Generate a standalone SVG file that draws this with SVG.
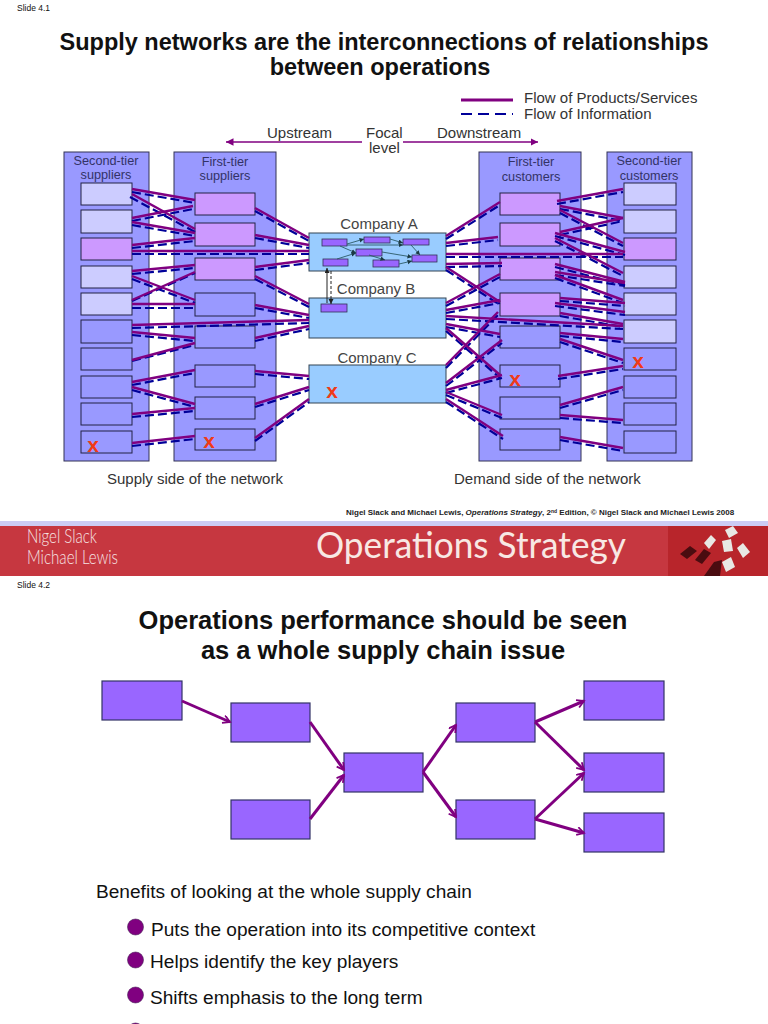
<svg xmlns="http://www.w3.org/2000/svg" width="768" height="1024" viewBox="0 0 768 1024">
<style>
text{font-family:"Liberation Sans",Arial,sans-serif;fill:#222}
.t{font-size:23.500px;font-weight:bold;text-anchor:middle;fill:#111}
.t2{font-size:25.500px;font-weight:bold;text-anchor:middle;fill:#111}
.l{font-size:15px;fill:#333}
.h{font-size:12.700px;text-anchor:middle;fill:#333366}
.m{font-size:15px;text-anchor:middle;fill:#444}
.s{font-size:8.500px;fill:#111}
.c{font-size:8px;font-weight:bold;fill:#222}
.b{font-size:19.100px;fill:#111}
.x{font-size:21px;font-weight:bold;text-anchor:middle;fill:#f03a17}
.col{fill:#9999ff;stroke:#333355;stroke-width:1}
.p0{fill:#9999ff;stroke:#222244;stroke-width:1}
.p1{fill:#cc99ff;stroke:#222244;stroke-width:1}
.p2{fill:#ccccff;stroke:#222244;stroke-width:1}
.co{fill:#99ccff;stroke:#334455;stroke-width:1}
.in{fill:#9966ff;stroke:#333355;stroke-width:.8}
.st{fill:#9966ff;stroke:#333366;stroke-width:1.2}
.f{stroke:#800080;stroke-width:2.400;fill:none}
.i{stroke:#000099;stroke-width:2.200;stroke-dasharray:9 4;fill:none}
.g{stroke:#2c5a66;stroke-width:.9;fill:none;marker-end:url(#sm)}
.a{stroke:#800080;stroke-width:3;fill:none;marker-end:url(#ah)}
.d{fill:#e8e8e4}
.k{fill:#4a0c10}
</style>
<defs>
<marker id="ah" markerWidth="10" markerHeight="10" refX="8" refY="4.500" orient="auto" markerUnits="userSpaceOnUse"><path d="M1 .5L8 4.500L1 8.500" fill="none" stroke="#800080" stroke-width="1.800"/></marker>
<marker id="sm" markerWidth="6" markerHeight="6" refX="5" refY="2.500" orient="auto"><path d="M0 0L5 2.500L0 5z" fill="#1c3a44"/></marker>
<marker id="smr" markerWidth="6" markerHeight="6" refX="5" refY="2.500" orient="auto-start-reverse"><path d="M0 0L5 2.500L0 5z" fill="#222"/></marker>
<marker id="tp" markerWidth="6" markerHeight="6" refX="5" refY="2.500" orient="auto-start-reverse"><path d="M0 0L5 2.500L0 5z" fill="#800080"/></marker>
</defs>
<rect width="768" height="1024" fill="#fff"/>

<text class="s" x="17" y="11">Slide 4.1</text>
<text class="t" x="384" y="50">Supply networks are the interconnections of relationships</text>
<text class="t" x="380" y="75">between operations</text>

<g id="legend">
<line x1="461" y1="100" x2="513" y2="100" stroke="#800080" stroke-width="3"/>
<line x1="461" y1="114" x2="513" y2="114" stroke="#000099" stroke-width="2" stroke-dasharray="11 6"/>
<text class="l" x="524" y="103">Flow of Products/Services</text>
<text class="l" x="524" y="119">Flow of Information</text>
</g>
<g id="levels">
<line x1="226" y1="142" x2="362" y2="142" stroke="#800080" stroke-width="1.500" marker-start="url(#tp)"/>
<line x1="403" y1="142" x2="538" y2="142" stroke="#800080" stroke-width="1.500" marker-end="url(#tp)"/>
<text class="l" x="267" y="138">Upstream</text>
<text class="l" x="366" y="138">Focal</text>
<text class="l" x="369" y="153">level</text>
<text class="l" x="437" y="138">Downstream</text>
</g>

<g id="second-tier-suppliers">
<rect class="col" x="64" y="152" width="85" height="309"/>
<text class="h" x="106" y="165">Second-tier</text><text class="h" x="106" y="179">suppliers</text>
<rect class="p2" x="81" y="183" width="51" height="22"/><rect class="p2" x="81" y="210" width="51" height="23"/><rect class="p1" x="81" y="238" width="51" height="22"/><rect class="p2" x="81" y="266" width="51" height="22"/><rect class="p2" x="81" y="293" width="51" height="22"/><rect class="p0" x="81" y="320" width="51" height="23"/><rect class="p0" x="81" y="348" width="51" height="22"/><rect class="p0" x="81" y="376" width="51" height="22"/><rect class="p0" x="81" y="403" width="51" height="22"/><rect class="p0" x="81" y="431" width="51" height="22"/>
<text class="x" x="93" y="452">x</text>
</g>
<g id="first-tier-suppliers">
<rect class="col" x="174" y="152" width="102" height="309"/>
<text class="h" x="225" y="166">First-tier</text><text class="h" x="225" y="180">suppliers</text>
<rect class="p1" x="195" y="193" width="60" height="22"/><rect class="p1" x="195" y="223" width="60" height="23"/><rect class="p1" x="195" y="258" width="60" height="22"/><rect class="p0" x="195" y="293" width="60" height="23"/><rect class="p0" x="195" y="326" width="60" height="22"/><rect class="p0" x="195" y="365" width="60" height="22"/><rect class="p0" x="195" y="397" width="60" height="22"/><rect class="p0" x="195" y="429" width="60" height="21"/>
<text class="x" x="209" y="448">x</text>
</g>
<g id="first-tier-customers">
<rect class="col" x="479" y="152" width="102" height="309"/>
<text class="h" x="531" y="166">First-tier</text><text class="h" x="531" y="181">customers</text>
<rect class="p1" x="500" y="193" width="60" height="22"/><rect class="p1" x="500" y="223" width="60" height="23"/><rect class="p1" x="500" y="258" width="60" height="22"/><rect class="p1" x="500" y="293" width="60" height="23"/><rect class="p0" x="500" y="326" width="60" height="22"/><rect class="p0" x="500" y="365" width="60" height="22"/><rect class="p0" x="500" y="397" width="60" height="22"/><rect class="p0" x="500" y="429" width="60" height="21"/>
<text class="x" x="515" y="386">x</text>
</g>
<g id="second-tier-customers">
<rect class="col" x="607" y="152" width="85" height="309"/>
<text class="h" x="649" y="165">Second-tier</text><text class="h" x="649" y="180">customers</text>
<rect class="p2" x="624" y="183" width="52" height="22"/><rect class="p2" x="624" y="210" width="52" height="23"/><rect class="p1" x="624" y="238" width="52" height="22"/><rect class="p2" x="624" y="266" width="52" height="22"/><rect class="p2" x="624" y="293" width="52" height="22"/><rect class="p2" x="624" y="320" width="52" height="23"/><rect class="p0" x="624" y="348" width="52" height="22"/><rect class="p0" x="624" y="376" width="52" height="22"/><rect class="p0" x="624" y="403" width="52" height="22"/><rect class="p0" x="624" y="431" width="52" height="22"/>
<text class="x" x="638" y="368">x</text>
</g>

<g id="company-a">
<text class="m" x="379" y="229">Company A</text>
<rect class="co" x="309" y="233" width="137" height="38"/>
<rect class="in" x="322" y="239" width="25" height="7"/><rect class="in" x="364" y="237" width="26" height="6"/><rect class="in" x="403" y="239" width="26" height="6"/><rect class="in" x="356" y="249" width="26" height="7"/><rect class="in" x="323" y="259" width="25" height="7"/><rect class="in" x="373" y="260" width="26" height="7"/><rect class="in" x="412" y="255" width="25" height="7"/>
<line class="g" x1="347" y1="244" x2="364" y2="239"/><line class="g" x1="390" y1="239" x2="403" y2="243"/><line class="g" x1="347" y1="245" x2="403" y2="245"/><line class="g" x1="340" y1="246" x2="356" y2="253"/><line class="g" x1="382" y1="252" x2="412" y2="257"/><line class="g" x1="411" y1="245" x2="420" y2="255"/><line class="g" x1="337" y1="259" x2="356" y2="253"/><line class="g" x1="369" y1="255" x2="385" y2="260"/><line class="g" x1="399" y1="264" x2="412" y2="261"/>
</g>
<g id="company-b">
<text class="m" x="376" y="294">Company B</text>
<rect class="co" x="309" y="298" width="137" height="40"/>
<rect class="in" x="321" y="304" width="26" height="8"/>
</g>
<g id="company-c">
<text class="m" x="377" y="363">Company C</text>
<rect class="co" x="309" y="365" width="137" height="38"/>
<text class="x" x="332" y="398">x</text>
</g>

<g id="connectors">
<line x1="327" y1="268" x2="327" y2="303" stroke="#222" stroke-width="1" marker-start="url(#smr)"/>
<line x1="331" y1="271" x2="331" y2="304" stroke="#222" stroke-width="1" stroke-dasharray="3 2" marker-end="url(#smr)"/>
<g id="information">
<line class="i" x1="132" y1="192" x2="195" y2="203"/><line class="i" x1="130" y1="197" x2="195" y2="232"/><line class="i" x1="132" y1="221" x2="193" y2="209"/><line class="i" x1="132" y1="225" x2="195" y2="236"/><line class="i" x1="132" y1="248" x2="195" y2="241"/><line class="i" x1="132" y1="254" x2="309" y2="254"/><line class="i" x1="132" y1="274" x2="195" y2="268"/><line class="i" x1="132" y1="279" x2="195" y2="303"/><line class="i" x1="132" y1="301" x2="195" y2="273"/><line class="i" x1="132" y1="308" x2="195" y2="308"/>
<line class="i" x1="255" y1="211" x2="309" y2="241"/><line class="i" x1="255" y1="238" x2="309" y2="248"/><line class="i" x1="255" y1="270" x2="309" y2="263"/><line class="i" x1="255" y1="279" x2="309" y2="307"/><line class="i" x1="255" y1="308" x2="309" y2="318"/>
<line class="i" x1="132" y1="328" x2="309" y2="323"/><line class="i" x1="132" y1="335" x2="195" y2="341"/><line class="i" x1="132" y1="361" x2="195" y2="345"/><line class="i" x1="132" y1="385" x2="195" y2="373"/><line class="i" x1="132" y1="390" x2="195" y2="407"/><line class="i" x1="132" y1="417" x2="195" y2="411"/><line class="i" x1="132" y1="446" x2="195" y2="439"/>
<line class="i" x1="255" y1="341" x2="309" y2="329"/><line class="i" x1="255" y1="374" x2="309" y2="379"/><line class="i" x1="255" y1="407" x2="309" y2="390"/><line class="i" x1="255" y1="441" x2="309" y2="402"/>
<line class="i" x1="446" y1="239" x2="500" y2="205"/><line class="i" x1="446" y1="246" x2="498" y2="240"/><line class="i" x1="446" y1="257" x2="623" y2="257"/><line class="i" x1="446" y1="267" x2="502" y2="266"/><line class="i" x1="446" y1="270" x2="500" y2="305"/>
<line class="i" x1="446" y1="306" x2="500" y2="277"/><line class="i" x1="446" y1="313" x2="500" y2="303"/><line class="i" x1="446" y1="319" x2="623" y2="329"/><line class="i" x1="446" y1="327" x2="500" y2="337"/><line class="i" x1="446" y1="331" x2="500" y2="378"/>
<line class="i" x1="446" y1="368" x2="498" y2="315"/><line class="i" x1="446" y1="386" x2="502" y2="343"/><line class="i" x1="446" y1="393" x2="502" y2="378"/><line class="i" x1="446" y1="395" x2="502" y2="418"/><line class="i" x1="446" y1="402" x2="503" y2="439"/>
<line class="i" x1="557" y1="204" x2="623" y2="192"/><line class="i" x1="560" y1="209" x2="623" y2="221"/><line class="i" x1="560" y1="213" x2="623" y2="246"/><line class="i" x1="560" y1="235" x2="623" y2="221"/><line class="i" x1="555" y1="236" x2="625" y2="255"/><line class="i" x1="555" y1="241" x2="623" y2="276"/><line class="i" x1="555" y1="267" x2="625" y2="285"/><line class="i" x1="555" y1="275" x2="625" y2="286"/><line class="i" x1="555" y1="278" x2="623" y2="303"/>
<line class="i" x1="560" y1="301" x2="625" y2="306"/><line class="i" x1="555" y1="306" x2="625" y2="315"/><line class="i" x1="560" y1="316" x2="623" y2="327"/><line class="i" x1="560" y1="336" x2="623" y2="342"/><line class="i" x1="560" y1="342" x2="623" y2="363"/><line class="i" x1="558" y1="379" x2="623" y2="369"/><line class="i" x1="560" y1="408" x2="623" y2="390"/><line class="i" x1="560" y1="418" x2="623" y2="423"/><line class="i" x1="560" y1="440" x2="623" y2="451"/>
</g>
<g id="products">
<line class="f" x1="132" y1="189" x2="195" y2="200"/><line class="f" x1="132" y1="194" x2="195" y2="229"/><line class="f" x1="132" y1="218" x2="193" y2="206"/><line class="f" x1="132" y1="222" x2="195" y2="233"/><line class="f" x1="132" y1="245" x2="195" y2="238"/><line class="f" x1="132" y1="251" x2="309" y2="251"/><line class="f" x1="132" y1="271" x2="195" y2="265"/><line class="f" x1="132" y1="276" x2="195" y2="300"/><line class="f" x1="132" y1="300" x2="195" y2="272"/><line class="f" x1="132" y1="304" x2="195" y2="304"/>
<line class="f" x1="255" y1="208" x2="309" y2="238"/><line class="f" x1="255" y1="235" x2="309" y2="245"/><line class="f" x1="255" y1="267" x2="309" y2="260"/><line class="f" x1="255" y1="276" x2="309" y2="304"/><line class="f" x1="255" y1="305" x2="309" y2="315"/>
<line class="f" x1="132" y1="325" x2="309" y2="320"/><line class="f" x1="132" y1="332" x2="195" y2="338"/><line class="f" x1="132" y1="360" x2="195" y2="343"/><line class="f" x1="132" y1="382" x2="195" y2="370"/><line class="f" x1="132" y1="387" x2="195" y2="404"/><line class="f" x1="132" y1="414" x2="195" y2="408"/><line class="f" x1="132" y1="443" x2="195" y2="436"/>
<line class="f" x1="255" y1="338" x2="309" y2="326"/><line class="f" x1="255" y1="371" x2="309" y2="376"/><line class="f" x1="255" y1="404" x2="309" y2="387"/><line class="f" x1="255" y1="438" x2="309" y2="399"/>
<line class="f" x1="446" y1="236" x2="500" y2="202"/><line class="f" x1="446" y1="243" x2="498" y2="237"/><line class="f" x1="446" y1="254" x2="623" y2="254"/><line class="f" x1="446" y1="264" x2="502" y2="263"/><line class="f" x1="446" y1="267" x2="500" y2="302"/>
<line class="f" x1="446" y1="303" x2="500" y2="274"/><line class="f" x1="446" y1="310" x2="500" y2="300"/><line class="f" x1="446" y1="316" x2="623" y2="326"/><line class="f" x1="446" y1="324" x2="500" y2="334"/><line class="f" x1="446" y1="328" x2="500" y2="375"/>
<line class="f" x1="446" y1="365" x2="498" y2="312"/><line class="f" x1="446" y1="383" x2="502" y2="340"/><line class="f" x1="446" y1="390" x2="502" y2="375"/><line class="f" x1="446" y1="392" x2="502" y2="415"/><line class="f" x1="446" y1="399" x2="503" y2="436"/>
<line class="f" x1="557" y1="201" x2="623" y2="189"/><line class="f" x1="560" y1="206" x2="623" y2="218"/><line class="f" x1="560" y1="210" x2="623" y2="243"/><line class="f" x1="560" y1="232" x2="623" y2="218"/><line class="f" x1="555" y1="233" x2="625" y2="252"/><line class="f" x1="555" y1="238" x2="623" y2="273"/><line class="f" x1="555" y1="264" x2="625" y2="282"/><line class="f" x1="555" y1="272" x2="625" y2="283"/><line class="f" x1="555" y1="275" x2="623" y2="300"/>
<line class="f" x1="560" y1="298" x2="625" y2="303"/><line class="f" x1="555" y1="303" x2="625" y2="312"/><line class="f" x1="560" y1="313" x2="623" y2="324"/><line class="f" x1="560" y1="333" x2="623" y2="339"/><line class="f" x1="560" y1="339" x2="623" y2="360"/><line class="f" x1="558" y1="376" x2="623" y2="366"/><line class="f" x1="560" y1="405" x2="623" y2="387"/><line class="f" x1="560" y1="415" x2="623" y2="420"/><line class="f" x1="560" y1="437" x2="623" y2="448"/>
</g>
</g>

<text class="l" x="107" y="484">Supply side of the network</text>
<text class="l" x="454" y="484">Demand side of the network</text>
<text class="c" x="346" y="515">Nigel Slack and Michael Lewis, <tspan font-style="italic">Operations Strategy</tspan>, 2<tspan dy="-2" style="font-size:5px">nd</tspan><tspan dy="2"> Edition, © Nigel Slack and Michael Lewis 2008</tspan></text>

<g id="banner">
<rect x="0" y="521" width="768" height="5" fill="#ccccf4"/>
<rect x="0" y="526" width="768" height="50" fill="#c63740"/>
<rect x="668" y="526" width="100" height="50" fill="#b8252b"/>
<text x="27" y="543" textLength="70" lengthAdjust="spacingAndGlyphs" style="font-family:Lato,sans-serif;font-size:19px;font-weight:300;fill:#f6e4e4">Nigel Slack</text>
<text x="27" y="564" textLength="91" lengthAdjust="spacingAndGlyphs" style="font-family:Lato,sans-serif;font-size:19px;font-weight:300;fill:#f6e4e4">Michael Lewis</text>
<text x="316" y="558" textLength="310" lengthAdjust="spacingAndGlyphs" style="font-family:Lato,sans-serif;font-size:36px;font-weight:400;fill:#f8e8e4">Operations Strategy</text>
<polygon class="k" points="680,554 690,546 697,551 687,559"/>
<polygon class="k" points="695,560 704,549 711,553 702,564"/>
<polygon class="k" points="704,576 714,562 722,560 720,576"/>
<polygon class="d" points="704,543 711,535 716,540 709,549"/>
<polygon class="d" points="725,530 733,526 738,533 729,538"/>
<polygon class="d" points="722,541 731,539 733,551 724,552"/>
<polygon class="d" points="737,548 743,543 750,552 743,558"/>
<polygon class="d" points="722,562 731,557 735,567 726,572"/>
</g>

<text class="s" x="17" y="588">Slide 4.2</text>
<text class="t2" x="383" y="629">Operations performance should be seen</text>
<text class="t2" x="383" y="659">as a whole supply chain issue</text>

<g id="chain-1"><rect class="st" x="102" y="681" width="80" height="39"/></g>
<g id="chain-2"><rect class="st" x="231" y="703" width="79" height="39"/></g>
<g id="chain-3"><rect class="st" x="231" y="800" width="79" height="39"/></g>
<g id="chain-4"><rect class="st" x="344" y="753" width="79" height="39"/></g>
<g id="chain-5"><rect class="st" x="456" y="703" width="79" height="39"/></g>
<g id="chain-6"><rect class="st" x="456" y="800" width="79" height="39"/></g>
<g id="chain-7"><rect class="st" x="584" y="681" width="80" height="39"/></g>
<g id="chain-8"><rect class="st" x="584" y="753" width="80" height="39"/></g>
<g id="chain-9"><rect class="st" x="584" y="813" width="80" height="39"/></g>
<g id="chain-connectors">
<line class="a" x1="182" y1="701" x2="230" y2="722"/>
<line class="a" x1="310" y1="722" x2="344" y2="770"/>
<line class="a" x1="310" y1="819" x2="344" y2="775"/>
<line class="a" x1="423" y1="772" x2="456" y2="725"/>
<line class="a" x1="423" y1="772" x2="456" y2="817"/>
<line class="a" x1="535" y1="722" x2="584" y2="701"/>
<line class="a" x1="535" y1="722" x2="584" y2="770"/>
<line class="a" x1="535" y1="819" x2="584" y2="773"/>
<line class="a" x1="535" y1="819" x2="584" y2="833"/>
</g>

<text class="b" x="96" y="898">Benefits of looking at the whole supply chain</text>
<g fill="#800080" stroke="#4a2a5a" stroke-width=".6">
<circle cx="135.500" cy="927" r="8"/>
<circle cx="135.500" cy="960" r="8"/>
<circle cx="135.500" cy="995" r="8"/>
<circle cx="135.500" cy="1031" r="8"/>
</g>
<text class="b" x="151" y="936">Puts the operation into its competitive context</text>
<text class="b" x="150" y="968">Helps identify the key players</text>
<text class="b" x="150" y="1004">Shifts emphasis to the long term</text>
</svg>
